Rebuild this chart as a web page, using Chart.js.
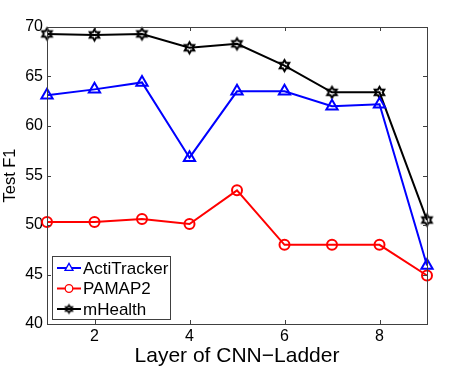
<!DOCTYPE html>
<html>
<head>
<meta charset="utf-8">
<script src="https://cdn.jsdelivr.net/npm/chart.js@4.4.1/dist/chart.umd.min.js"></script>
<style>
  html, body { margin: 0; padding: 0; background: #fff; }
  #wrap { width: 474px; height: 368px; }
</style>
</head>
<body>
<div id="wrap"><canvas id="chart"></canvas></div>
<script>
const layers = [1, 2, 3, 4, 5, 6, 7, 8, 9]
const actiTracker = [63.1, 63.7, 64.4, 56.8, 63.5, 63.5, 62.0, 62.2, 45.9]
const pamap2 = [50.3, 50.3, 50.6, 50.1, 53.5, 48.0, 48.0, 48.0, 44.9]
const mHealth = [69.3, 69.2, 69.3, 67.9, 68.3, 66.1, 63.4, 63.4, 50.5]
const seriesNames = ['ActiTracker', 'PAMAP2', 'mHealth']
const xTicks = [2, 4, 6, 8]
const yTicks = [40, 45, 50, 55, 60, 65, 70]

const FONT = "'Liberation Sans', Arial, Helvetica, sans-serif"

// hexagram marker like matlab 'h'
function hexagram(outer, color, lw) {
  const size = Math.ceil(outer * 2 + lw * 2 + 2)
  const c = document.createElement('canvas')
  c.width = size
  c.height = size
  const g = c.getContext('2d')
  const cx = size / 2, cy = size / 2, inner = outer * 0.58
  g.beginPath()
  for (let i = 0; i < 12; i++) {
    const r = i % 2 === 0 ? outer : inner
    const a = -Math.PI / 2 + i * Math.PI / 6
    const px = cx + Math.cos(a) * r, py = cy + Math.sin(a) * r
    if (i === 0) g.moveTo(px, py)
    else g.lineTo(px, py)
  }
  g.closePath()
  g.strokeStyle = color
  g.lineWidth = lw
  g.stroke()
  return c
}

const starBig = hexagram(5.5, '#000', 2)
const starSmall = hexagram(3.8, '#000', 1.6)

const toPts = ys => layers.map((x, i) => ({ x: x, y: ys[i] }))

/* ===============================
   FRAME + INWARD TICKS
================================ */
const frame = {
  id: 'frame',
  afterDatasetsDraw(chart) {
    const { ctx, chartArea: a, scales } = chart
    const len = 4
    ctx.save()
    ctx.strokeStyle = '#404040'
    ctx.lineWidth = 1
    ctx.strokeRect(Math.round(a.left) + 0.5, Math.round(a.top) + 0.5,
      Math.round(a.right - a.left), Math.round(a.bottom - a.top))
    ctx.beginPath()
    xTicks.forEach(v => {
      const px = Math.round(scales.x.getPixelForValue(v)) + 0.5
      ctx.moveTo(px, a.bottom); ctx.lineTo(px, a.bottom - len)
      ctx.moveTo(px, a.top); ctx.lineTo(px, a.top + len)
    })
    yTicks.forEach(v => {
      const py = Math.round(scales.y.getPixelForValue(v)) + 0.5
      ctx.moveTo(a.left, py); ctx.lineTo(a.left + len, py)
      ctx.moveTo(a.right, py); ctx.lineTo(a.right - len, py)
    })
    ctx.stroke()
    ctx.restore()
  }
}

/* ===============================
   LEGEND (inside, bottom left)
================================ */
const boxLegend = {
  id: 'boxLegend',
  afterDraw(chart) {
    const { ctx, chartArea: a } = chart
    const x0 = a.left + 5, w = 118, h = 63
    const y0 = a.bottom - 5 - h
    ctx.save()
    ctx.fillStyle = '#fff'
    ctx.fillRect(x0, y0, w, h)
    ctx.strokeStyle = '#404040'
    ctx.lineWidth = 1
    ctx.strokeRect(Math.round(x0) + 0.5, Math.round(y0) + 0.5, w, h)
    ctx.font = '17px ' + FONT
    ctx.textBaseline = 'middle'
    chart.data.datasets.forEach((ds, i) => {
      const cy = y0 + 12 + i * 20.5
      ctx.strokeStyle = ds.borderColor
      ctx.lineWidth = 2
      ctx.beginPath()
      ctx.moveTo(x0 + 5, cy)
      ctx.lineTo(x0 + 29, cy)
      ctx.stroke()
      // hollow marker: white inside so the line does not fill it
      ctx.fillStyle = '#fff'
      ctx.lineWidth = 1.3
      Chart.helpers.drawPoint(ctx, {
        pointStyle: ds.legendStyle,
        radius: ds.legendRadius,
        rotation: 0,
        borderWidth: 1.3
      }, x0 + 17, cy)
      ctx.fillStyle = '#000'
      ctx.fillText(ds.label, x0 + 31, cy + 1)
    })
    ctx.restore()
  }
}

const colors = ['#0000ff', '#ff0000', '#000000']
const styles = ['triangle', 'circle', starBig]
const legendStyles = ['triangle', 'circle', starSmall]
const radii = [6.5, 5, 6]
const legendRadii = [4.6, 3.8, 4]
const allValues = [actiTracker, pamap2, mHealth]

const datasets = seriesNames.map((name, i) => ({
  label: name,
  data: toPts(allValues[i]),
  borderColor: colors[i],
  backgroundColor: colors[i],
  borderWidth: 2,
  pointStyle: styles[i],
  legendStyle: legendStyles[i],
  legendRadius: legendRadii[i],
  pointRadius: radii[i],
  pointBorderWidth: 2,
  pointBorderColor: colors[i],
  pointBackgroundColor: 'rgba(0,0,0,0)',
  tension: 0,
  clip: false
}))

new Chart(document.getElementById('chart'), {
  type: 'line',
  data: { datasets: datasets },
  options: {
    responsive: true,
    maintainAspectRatio: false,
    animation: false,
    layout: { padding: { top: 27, right: 47, left: 0, bottom: 0 } },
    plugins: {
      legend: { display: false },
      tooltip: { enabled: false }
    },
    scales: {
      x: {
        type: 'linear',
        min: 1,
        max: 9,
        afterBuildTicks: s => { s.ticks = xTicks.map(v => ({ value: v })) },
        afterFit: s => { s.height = 44 },
        grid: { display: false, drawTicks: false },
        border: { display: false },
        ticks: { color: '#000', font: { family: FONT, size: 16 }, padding: 3, maxRotation: 0 },
        title: {
          display: true,
          text: 'Layer of CNN\u2212Ladder',
          color: '#000',
          font: { family: FONT, size: 21, lineHeight: 1.1 },
          padding: 0
        }
      },
      y: {
        min: 40,
        max: 70,
        afterBuildTicks: s => { s.ticks = yTicks.map(v => ({ value: v })) },
        afterFit: s => { s.width = 47 },
        grid: { display: false, drawTicks: false },
        border: { display: false },
        ticks: { color: '#000', font: { family: FONT, size: 16 }, padding: 4 },
        title: {
          display: true,
          text: 'Test F1',
          color: '#000',
          font: { family: FONT, size: 16.5 },
          padding: { top: 1, bottom: 0 }
        }
      }
    }
  },
  plugins: [frame, boxLegend]
})
</script>
</body>
</html>
